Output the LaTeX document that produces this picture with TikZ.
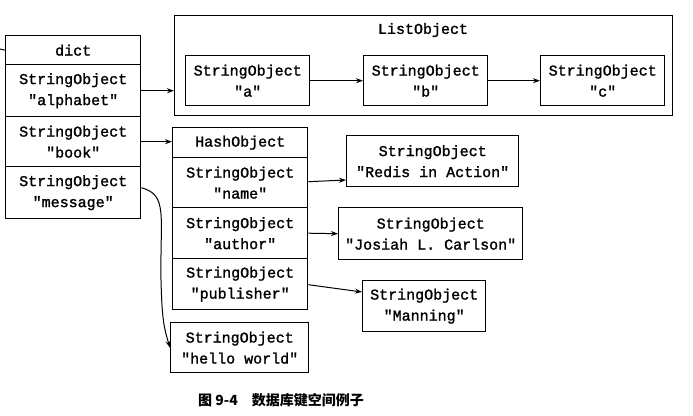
\documentclass[tikz,border=0pt]{standalone}
\usepackage{fontspec}
\setmonofont{Liberation Mono}[FakeBold=1.5]
\newfontfamily\cjk{Noto Sans CJK SC}
\usetikzlibrary{arrows.meta}
\begin{document}
\begin{tikzpicture}[x=1pt,y=-1pt,
  cell/.style={draw,line width=1.4pt,minimum width=#1,inner sep=0pt,anchor=north west,align=center,font=\ttfamily\fontsize{15}{21}\selectfont},
  conn/.style={-{Stealth[length=7pt,width=5pt]},line width=1pt}]
\useasboundingbox (0,0) rectangle (693,415);
% dict
\node[cell=135pt,minimum height=29pt] (dict) at (5,35) {dict};
\node[cell=135pt,minimum height=52pt] (alpha) at (5,64) {StringObject\\"alphabet"};
\node[cell=135pt,minimum height=50pt] (book) at (5,116) {StringObject\\"book"};
\node[cell=135pt,minimum height=52pt] (msg) at (5,166) {StringObject\\"message"};
\coordinate (in) at (0,49);
\draw[line width=1pt] (in) -- (dict.west);
% list
\node[cell=498pt,minimum height=100pt] (list) at (174,15) {};
\node[font=\ttfamily\fontsize{15}{21}\selectfont] (ltitle) at (423,30) {ListObject};
\node[cell=124pt,minimum height=50pt] (a) at (185,55) {StringObject\\"a"};
\node[cell=124pt,minimum height=50pt] (b) at (363,55) {StringObject\\"b"};
\node[cell=124pt,minimum height=50pt] (c) at (540,55) {StringObject\\"c"};
\draw[conn] (a) -- (b);
\draw[conn] (b) -- (c);
% hash
\node[cell=135pt,minimum height=30pt] (hash) at (172,127) {HashObject};
\node[cell=135pt,minimum height=50pt] (name) at (172,157) {StringObject\\"name"};
\node[cell=135pt,minimum height=51pt] (author) at (172,207) {StringObject\\"author"};
\node[cell=135pt,minimum height=51pt] (pub) at (172,258) {StringObject\\"publisher"};
\node[cell=172pt,minimum height=51pt] (redis) at (346,135) {StringObject\\"Redis in Action"};
\node[cell=184pt,minimum height=52pt] (josiah) at (338,207) {StringObject\\"Josiah L. Carlson"};
\node[cell=123pt,minimum height=51pt] (man) at (362,280) {StringObject\\"Manning"};
\node[cell=138pt,minimum height=50pt] (hello) at (170,322) {StringObject\\"hello world"};
% arrows
\draw[conn] (alpha.east) -- (list.west |- alpha.east);
\draw[conn] (book.east) -- (hash.west |- book.east);
\draw[conn] ([yshift=1pt]name.east) -- (redis.south west |- 0,180);
\draw[conn] (author.east) -- (josiah.west);
\draw[conn] ([yshift=-0.5pt]pub.east) -- (man.west |- 0,292);
\draw[conn] ([yshift=5pt]msg.east) .. controls (168,195) and (160,215) .. (161,280) .. controls (162,320) and (164,328) .. (hello.west);
\node[font=\cjk\bfseries\fontsize{14}{16}\selectfont] (cap) at (281,400) {图 9-4\quad 数据库键空间例子};
\end{tikzpicture}
\end{document}
